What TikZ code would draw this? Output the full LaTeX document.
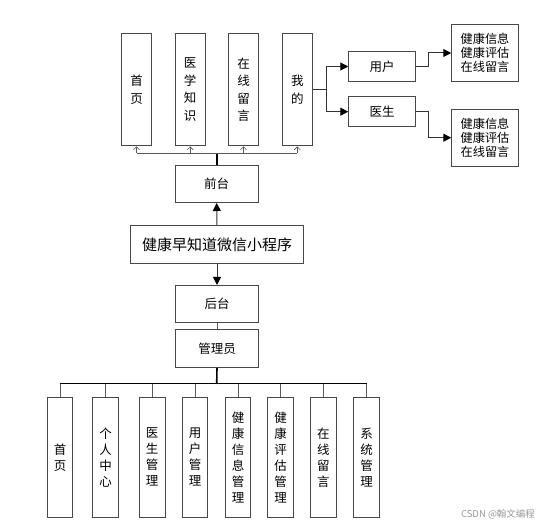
\documentclass[tikz,border=0pt]{standalone}
\usepackage{fontspec}
\setmainfont{Noto Sans CJK SC}
\usetikzlibrary{arrows.meta}
\begin{document}
\begin{tikzpicture}[x=1pt,y=-1pt,
  box/.style={draw=black!72,line width=0.9pt,fill=white,inner sep=0pt,align=center,font=\fontsize{12.5}{17.5}\selectfont},
  topbox/.style={box,minimum width=29.5pt,minimum height=112.5pt},
  midbox/.style={box,minimum width=66.6pt,minimum height=29.8pt},
  infobox/.style={box,minimum width=66.6pt,minimum height=56.6pt,font=\fontsize{12.2}{14.3}\selectfont},
  mainbox/.style={box,minimum width=82.8pt,minimum height=37.5pt},
  botbox/.style={box,minimum width=25.6pt,minimum height=120pt,font=\fontsize{12.5}{16}\selectfont},
  thinline/.style={draw=black!65,line width=0.8pt},
  trunk/.style={draw=black,line width=1.6pt},
  elbow/.style={draw=black!80,line width=1pt},
  tri/.style={-{Triangle[length=8pt,width=8pt,fill=black,color=black]}},
  barb/.style={-{Straight Barb[length=3pt,width=6pt,line width=0.6pt]}}
]
\useasboundingbox (0,0) rectangle (552,526);

% top row
\node[topbox] (t1) at (136.5,89.7) {首\\页};
\node[topbox] (t2) at (190.2,89.7) {医\\学\\知\\识};
\node[topbox] (t3) at (243.5,89.7) {在\\线\\留\\言};
\node[topbox] (t4) at (297.3,89.7) {我\\的};

\node[midbox] (yh) at (382,66.5) {用户};
\node[midbox] (ys) at (382,111.7) {医生};

\node[infobox] (r1) at (485,53) {健康信息\\健康评估\\在线留言};
\node[infobox] (r2) at (485,137.7) {健康信息\\健康评估\\在线留言};

% center column
\node[mainbox] (qt) at (216.7,183.8) {前台};
\node[box,minimum width=172.6pt,minimum height=37.6pt,font=\fontsize{15}{18}\selectfont] (app) at (217,244.5) {健康早知道微信小程序};
\node[mainbox] (ht) at (217,304.2) {后台};
\node[mainbox] (gly) at (217,348.7) {管理员};

% bottom row
\node[botbox] (b1) at (60,457.3) {首\\页};
\node[botbox] (b2) at (105.7,457.3) {个\\人\\中\\心};
\node[botbox] (b3) at (152.2,457.3) {医\\生\\管\\理};
\node[botbox] (b4) at (195,457.3) {用\\户\\管\\理};
\node[botbox] (b5) at (238,457.3) {健\\康\\信\\息\\管\\理};
\node[botbox] (b6) at (280.5,457.3) {健\\康\\评\\估\\管\\理};
\node[botbox] (b7) at (323.3,457.3) {在\\线\\留\\言};
\node[botbox] (b8) at (366.5,457.3) {系\\统\\管\\理};

% watermark
\node[text=black!40,font=\fontsize{9.5}{11}\selectfont,inner sep=0pt] (wm) at (498,514) {CSDN @翰文编程};

% top connectors
\coordinate (tb) at (216.7,153.3);
\draw[trunk] (qt.north) -- (tb);
\draw[thinline] (t1.south |- tb) -- (t4.south |- tb);
\foreach \n in {t1,t2,t3,t4} {
  \draw[thinline,barb] (\n.south |- tb) -- (\n.south);
}

\coordinate (wj) at (326,89.7);
\draw[elbow] (t4.east) -- (wj);
\draw[elbow,tri] (wj) |- (yh.west);
\draw[elbow,tri] (wj) |- (ys.west);

\coordinate (ce) at (428.3,0);
\draw[elbow,tri] (yh.east) -- (yh.east -| ce) |- (r1.west);
\draw[elbow,tri] (ys.east) -- (ys.east -| ce) |- (r2.west);

% center connectors
\draw[elbow,tri] (app.north) -- (qt.south);
\draw[elbow,tri] (app.south) -- (ht.north);
\draw[thinline] (ht.south) -- (gly.north);

% bottom connectors
\coordinate (bb) at (216.7,384);
\draw[trunk] (gly.south) -- (bb);
\draw[draw=black,line width=1pt] (b1.north |- bb) -- (b8.north |- bb);
\foreach \n in {b1,b2,b3,b4,b5,b6,b7,b8} {
  \draw[thinline] (\n.north |- bb) -- (\n.north);
}
\end{tikzpicture}
\end{document}
